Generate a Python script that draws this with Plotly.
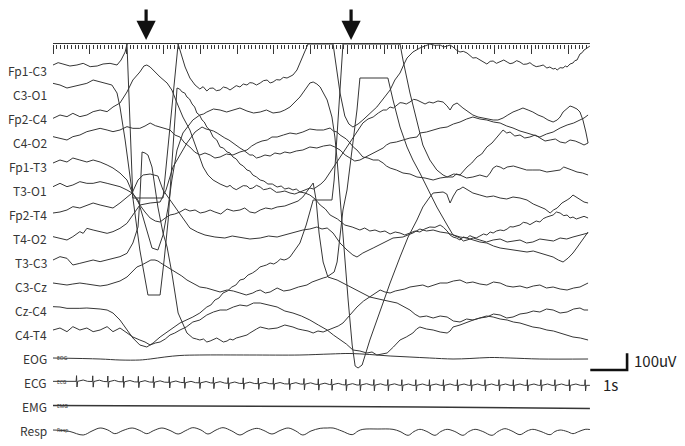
import plotly.graph_objects as go

# EEG montage page: 12 EEG derivations + EOG / ECG / EMG / Resp
# each trace: (time s, amplitude uV)
CHANNELS = ['Fp1-C3', 'C3-O1', 'Fp2-C4', 'C4-O2', 'Fp1-T3', 'T3-O1',
            'Fp2-T4', 'T4-O2', 'T3-C3', 'C3-Cz', 'Cz-C4', 'C4-T4',
            'EOG', 'ECG', 'EMG', 'Resp']
PAGE_S = 14.59
ARROWS_S = [2.53, 8.10]

FP1_C3 = [(0, 30), (0.14, 44), (0.27, 36), (0.46, 24), (0.65, 30), (0.82, 40), (1.01, 20), (1.20, 24), (1.36, 36),
          (1.55, 40), (1.74, 30), (1.85, 60), (1.96, 108), (2.01, 156), (2.17, -768), (2.58, -768), (2.99, -768),
          (3.40, 156), (3.59, 18), (3.72, -48), (3.86, -90), (3.99, -114), (4.08, -100), (4.18, -126),
          (4.26, -110), (4.35, -108), (4.44, -124), (4.54, -120), (4.63, -102), (4.73, -108), (4.81, -120),
          (4.89, -108), (4.98, -94), (5.08, -102), (5.17, -84), (5.27, -90), (5.35, -76), (5.43, -78), (5.53, -90),
          (5.63, -78), (5.72, -64), (5.82, -60), (5.90, -78), (5.98, -72), (6.07, -58), (6.17, -60), (6.26, -44),
          (6.36, -48), (6.52, -30), (6.63, 0), (6.71, 42), (6.85, 120), (6.93, 156), (7.61, 156), (7.72, -12),
          (7.80, -138), (7.93, -276), (8.04, -324), (8.15, -342), (8.29, -324), (8.42, -300), (8.61, -258),
          (8.80, -222), (8.97, -174), (9.16, -120), (9.29, -60), (9.43, -18), (9.54, 36), (9.62, 72), (9.78, 108),
          (9.97, 132), (10.24, 156), (10.38, 148), (10.52, 150), (10.62, 138), (10.71, 144), (10.79, 150),
          (10.87, 138), (10.96, 120), (11.06, 108), (11.15, 112), (11.25, 102), (11.33, 88), (11.41, 72),
          (11.50, 74), (11.60, 60), (11.70, 50), (11.79, 36), (11.88, 52), (11.96, 54), (12.05, 40), (12.15, 48),
          (12.25, 60), (12.34, 48), (12.42, 38), (12.50, 42), (12.60, 56), (12.69, 48), (12.78, 34), (12.88, 36),
          (12.96, 44), (13.04, 30), (13.13, 20), (13.23, 24), (13.32, 30), (13.42, 12), (13.50, 18), (13.59, 6),
          (13.65, 10), (13.70, 0), (13.78, 14), (13.86, 12), (13.92, 24), (13.97, 18), (14.05, 36), (14.13, 42),
          (14.18, 56), (14.24, 60), (14.32, 96), (14.38, 104), (14.43, 120), (14.49, 128), (14.54, 138),
          (14.59, 144)]

C3_O1 = [(0, 64), (0.19, 54), (0.38, 36), (0.54, 44), (0.73, 54), (0.92, 64), (1.09, 84), (1.28, 74), (1.47, 64),
         (1.60, 54), (1.74, 6), (1.82, -78), (1.96, -276), (2.09, -486), (2.23, -696), (2.36, -936), (2.58, -1206),
         (2.91, -1206), (3.02, -996), (3.13, -756), (3.21, -486), (3.29, -216), (3.37, 36), (3.44, 30), (3.51, 12),
         (3.58, 6), (3.64, -18), (3.71, -30), (3.78, -60), (3.85, -78), (3.91, -114), (3.98, -126), (4.05, -156),
         (4.11, -168), (4.18, -198), (4.26, -216), (4.35, -258), (4.45, -276), (4.54, -318), (4.63, -324),
         (4.73, -348), (4.81, -354), (4.89, -378), (4.98, -390), (5.08, -420), (5.17, -432), (5.27, -456),
         (5.35, -462), (5.43, -486), (5.53, -498), (5.63, -516), (5.73, -522), (5.84, -540), (5.96, -540),
         (6.09, -558), (6.20, -552), (6.30, -570), (6.41, -564), (6.52, -576), (6.61, -570), (6.71, -588),
         (6.85, -594), (6.98, -606), (7.12, -630), (7.26, -666), (7.40, -690), (7.53, -726), (7.73, -750),
         (7.93, -786), (8.13, -798), (8.34, -816), (8.47, -804), (8.61, -822), (8.75, -816), (8.89, -828),
         (9.02, -822), (9.16, -840), (9.30, -828), (9.43, -834), (9.56, -846), (9.70, -834), (9.84, -822),
         (9.97, -828), (10.10, -810), (10.24, -798), (10.38, -800), (10.52, -786), (10.61, -800), (10.71, -822),
         (10.79, -846), (10.87, -858), (10.96, -864), (11.06, -876), (11.15, -858), (11.25, -864), (11.33, -850),
         (11.41, -858), (11.50, -864), (11.60, -852), (11.70, -840), (11.79, -846), (11.88, -828), (11.96, -834),
         (12.05, -822), (12.15, -816), (12.25, -820), (12.34, -810), (12.42, -796), (12.50, -798), (12.60, -792),
         (12.69, -786), (12.78, -770), (12.88, -774), (12.96, -784), (13.04, -774), (13.13, -762), (13.23, -768),
         (13.32, -748), (13.42, -738), (13.50, -732), (13.59, -726), (13.68, -708), (13.78, -714), (13.88, -730),
         (13.97, -726), (14.05, -744), (14.13, -738), (14.22, -750), (14.32, -744), (14.43, -734), (14.54, -744)]

FP2_C4 = [(0, -2), (0.19, 18), (0.38, 8), (0.54, 28), (0.73, 8), (0.92, 18), (1.09, 38), (1.28, 48), (1.47, 38),
          (1.63, 66), (1.82, 90), (2.01, 156), (2.17, 228), (2.36, 276), (2.47, 312), (2.55, 318), (2.64, 306),
          (2.72, 288), (2.91, 246), (3.10, 210), (3.23, 168), (3.37, 90), (3.53, 6), (3.72, -72), (3.91, -192),
          (4.08, -294), (4.21, -342), (4.35, -372), (4.54, -396), (4.63, -406), (4.73, -414), (4.81, -404),
          (4.89, -420), (4.98, -430), (5.08, -420), (5.17, -406), (5.27, -408), (5.35, -424), (5.43, -420),
          (5.53, -404), (5.63, -414), (5.72, -430), (5.82, -426), (5.90, -420), (5.98, -432), (6.07, -446),
          (6.17, -444), (6.30, -438), (6.44, -450), (6.57, -456), (6.71, -444), (6.85, -430), (6.98, -420),
          (7.08, -426), (7.17, -414), (7.28, -396), (7.39, -372), (7.66, -282), (7.93, -192), (8.21, -102),
          (8.42, -30), (8.56, -6), (8.70, 6), (8.84, 30), (8.97, 48), (9.06, 48), (9.16, 66), (9.25, 60), (9.35, 78),
          (9.43, 92), (9.51, 90), (9.60, 84), (9.70, 96), (9.80, 112), (9.89, 108), (10.00, 96), (10.11, 84),
          (10.22, 96), (10.33, 90), (10.46, 102), (10.60, 96), (10.71, 72), (10.79, 48), (10.87, 78), (10.98, 90),
          (11.14, 60), (11.28, 36), (11.41, 18), (11.55, 6), (11.68, 0), (11.82, -6), (11.96, -12), (12.09, -12),
          (12.23, 0), (12.36, 18), (12.50, 36), (12.64, 48), (12.77, 60), (12.91, 48), (13.04, 36), (13.18, 18),
          (13.32, 6), (13.45, -12), (13.59, -24), (13.70, -12), (13.78, 6), (13.86, 36), (13.97, 60), (14.05, 72),
          (14.13, 66), (14.24, 54), (14.32, 36), (14.40, -12), (14.48, -84), (14.54, -150)]

C4_O2 = [(0, 32), (0.19, 22), (0.38, 12), (0.54, 32), (0.73, 42), (0.92, 62), (1.09, 72), (1.28, 82), (1.47, 72),
         (1.63, 62), (1.82, 72), (2.01, 92), (2.17, 82), (2.36, 82), (2.50, 96), (2.64, 114), (2.78, 98), (2.91, 90),
         (3.05, 84), (3.18, 72), (3.31, 42), (3.45, 30), (3.58, -6), (3.72, -30), (3.85, -60), (3.99, -78),
         (4.13, -66), (4.27, -78), (4.40, -96), (4.54, -90), (4.71, -72), (4.89, -78), (5.08, -60), (5.27, -48),
         (5.40, -24), (5.54, -6), (5.68, 6), (5.82, 12), (5.95, 30), (6.09, 30), (6.26, 42), (6.44, 54), (6.61, 48),
         (6.79, 60), (6.98, 78), (7.17, 72), (7.35, 72), (7.53, 84), (7.62, 66), (7.72, 60), (7.80, 42), (7.88, 30),
         (7.97, 18), (8.07, -6), (8.16, -30), (8.26, -48), (8.34, -66), (8.42, -90), (8.56, -96), (8.70, -108),
         (8.84, -108), (8.97, -126), (9.06, -144), (9.16, -156), (9.33, -168), (9.51, -186), (9.70, -192),
         (9.89, -210), (10.11, -216), (10.33, -228), (10.52, -216), (10.71, -210), (10.89, -192), (11.06, -198),
         (11.24, -216), (11.41, -210), (11.60, -198), (11.79, -210), (11.88, -186), (11.96, -156), (12.05, -144),
         (12.15, -150), (12.25, -162), (12.34, -150), (12.51, -144), (12.69, -156), (12.87, -168), (13.04, -168),
         (13.23, -168), (13.42, -180), (13.60, -174), (13.78, -168), (13.88, -150), (13.97, -156), (14.10, -168),
         (14.24, -180), (14.39, -186), (14.54, -198)]

FP1_T3 = [(0, 18), (0.19, 36), (0.38, 24), (0.54, 48), (0.73, 36), (0.92, 24), (1.09, 36), (1.28, 24), (1.47, 6),
          (1.63, -12), (1.82, -42), (2.01, -84), (2.15, -156), (2.36, -234), (2.50, -276), (2.64, -312),
          (2.78, -330), (2.91, -336), (3.05, -312), (3.18, -294), (3.31, -288), (3.45, -276), (3.59, -258),
          (3.72, -270), (3.86, -264), (4.00, -282), (4.13, -276), (4.27, -264), (4.40, -276), (4.56, -288),
          (4.73, -258), (4.90, -270), (5.08, -264), (5.21, -252), (5.35, -276), (5.49, -282), (5.63, -264),
          (5.78, -252), (5.94, -258), (6.09, -246), (6.30, -240), (6.52, -222), (6.66, -210), (6.79, -186),
          (6.98, -126), (7.07, -102), (7.15, -204), (7.23, -402), (7.34, -576), (7.47, -666), (7.72, -684),
          (7.99, -714), (8.26, -744), (8.61, -786), (8.97, -804), (9.35, -822), (9.70, -864), (9.84, -890),
          (9.97, -906), (10.15, -900), (10.33, -912), (10.52, -900), (10.71, -906), (10.88, -930), (11.06, -936),
          (11.24, -918), (11.41, -924), (11.60, -912), (11.79, -906), (11.97, -888), (12.15, -894), (12.33, -912),
          (12.50, -906), (12.69, -888), (12.88, -882), (13.05, -870), (13.23, -876), (13.41, -858), (13.59, -864),
          (13.78, -882), (13.97, -876), (14.15, -858), (14.32, -852), (14.43, -864), (14.54, -864)]

T3_O1 = [(0, 20), (0.19, 40), (0.38, 20), (0.54, 30), (0.73, 50), (0.92, 40), (1.09, 40), (1.28, 50), (1.47, 40),
         (1.63, 30), (1.82, 20), (2.01, 0), (2.15, -18), (2.31, 60), (2.45, 90), (2.64, 96), (2.85, 84), (2.99, 0),
         (3.18, -60), (3.45, -150), (3.72, -228), (3.92, -252), (4.13, -270), (4.40, -282), (4.67, -288),
         (4.87, -276), (5.08, -282), (5.35, -294), (5.63, -288), (5.86, -276), (6.09, -282), (6.30, -270),
         (6.52, -258), (6.66, -246), (6.79, -240), (6.98, -234), (7.17, -222), (7.31, -234), (7.45, -228),
         (7.61, -258), (7.80, -318), (7.99, -360), (8.15, -390), (8.26, -402), (8.42, -378), (8.70, -348),
         (8.97, -318), (9.24, -288), (9.51, -282), (9.78, -258), (9.97, -234), (10.15, -246), (10.33, -240),
         (10.52, -252), (10.71, -258), (10.88, -270), (11.06, -282), (11.24, -288), (11.41, -300), (11.60, -312),
         (11.79, -318), (11.97, -336), (12.15, -348), (12.33, -354), (12.50, -360), (12.69, -366), (12.88, -372),
         (13.05, -366), (13.23, -378), (13.41, -390), (13.59, -402), (13.73, -420), (13.86, -432), (14.00, -408),
         (14.13, -378), (14.23, -348), (14.32, -318), (14.43, -288), (14.54, -252)]

FP2_T4 = [(0, 6), (0.19, 12), (0.38, 24), (0.54, 44), (0.73, 36), (0.92, 54), (1.09, 66), (1.28, 54), (1.47, 44),
          (1.63, 36), (1.82, 66), (2.01, 102), (2.15, 126), (2.31, 84), (2.50, -66), (2.69, -204), (2.85, -216),
          (2.99, -126), (3.13, 42), (3.23, 204), (3.37, 384), (3.53, 486), (3.80, 564), (3.90, 582), (3.99, 594),
          (4.09, 600), (4.18, 612), (4.36, 630), (4.54, 624), (4.72, 612), (4.89, 624), (5.08, 636), (5.27, 618),
          (5.45, 606), (5.63, 612), (5.80, 624), (5.98, 606), (6.17, 612), (6.30, 624), (6.44, 642), (6.71, 702),
          (6.85, 744), (6.98, 786), (7.07, 792), (7.17, 780), (7.26, 762), (7.45, 684), (7.58, 582), (7.66, 462),
          (7.72, 324), (7.80, 84), (7.91, -216), (8.02, -516), (8.13, -786), (8.21, -912), (8.29, -924),
          (8.40, -906), (8.61, -756), (8.89, -576), (9.16, -414), (9.43, -258), (9.65, -138), (9.89, -36),
          (10.05, 42), (10.24, 102), (10.33, 126), (10.60, 132), (10.70, 120), (10.79, 66), (10.88, 108),
          (10.98, 144), (11.06, 150), (11.14, 162), (11.27, 144), (11.41, 126), (11.60, 114), (11.79, 102),
          (11.97, 108), (12.15, 96), (12.33, 90), (12.50, 102), (12.69, 96), (12.88, 84), (13.05, 60), (13.23, 42),
          (13.37, 30), (13.51, 6), (13.60, 24), (13.70, 36), (13.83, 66), (13.97, 84), (14.05, 96), (14.13, 114),
          (14.22, 102), (14.32, 84), (14.43, 72), (14.54, 66)]

T4_O2 = [(0, 8), (0.19, -2), (0.38, -12), (0.54, 8), (0.73, 38), (0.82, 28), (0.92, 58), (1.09, 48), (1.28, 38),
         (1.47, 28), (1.63, 38), (1.82, 58), (2.01, 88), (2.17, 138), (2.36, 198), (2.64, 210), (2.91, 216),
         (3.07, 288), (3.26, 426), (3.64, 570), (3.86, 636), (4.05, 666), (4.16, 654), (4.27, 648), (4.36, 642),
         (4.46, 630), (4.57, 612), (4.67, 600), (4.78, 588), (4.89, 570), (4.98, 552), (5.08, 540), (5.17, 528),
         (5.27, 510), (5.35, 498), (5.43, 498), (5.53, 480), (5.63, 486), (5.76, 498), (5.90, 492), (6.03, 510),
         (6.17, 504), (6.30, 516), (6.44, 510), (6.61, 522), (6.79, 528), (6.98, 546), (7.17, 540), (7.35, 552),
         (7.53, 558), (7.66, 546), (7.80, 528), (7.94, 498), (8.07, 480), (8.20, 462), (8.34, 468), (8.44, 480),
         (8.53, 486), (8.62, 498), (8.70, 510), (8.84, 528), (8.97, 540), (9.06, 558), (9.16, 570), (9.33, 576),
         (9.51, 588), (9.70, 600), (9.89, 606), (9.97, 630), (10.15, 636), (10.33, 648), (10.52, 660), (10.71, 666),
         (10.88, 684), (11.06, 696), (11.24, 714), (11.41, 726), (11.60, 714), (11.79, 708), (11.97, 696),
         (12.15, 690), (12.33, 672), (12.50, 660), (12.69, 642), (12.88, 630), (13.05, 618), (13.23, 606),
         (13.41, 624), (13.59, 636), (13.78, 660), (13.97, 678), (14.15, 690), (14.32, 708), (14.43, 720),
         (14.54, 738)]

T3_C3 = [(0, 12), (0.19, 32), (0.38, 22), (0.54, -18), (0.73, -8), (0.92, 2), (1.09, 12), (1.28, 2), (1.47, 12),
         (1.63, 22), (1.82, 32), (2.01, 52), (2.17, 114), (2.31, 210), (2.36, 372), (2.42, 660), (2.50, 654),
         (2.58, 642), (2.69, 570), (2.77, 450), (2.85, 330), (2.99, 174), (3.10, 90), (3.23, -66), (3.40, -306),
         (3.64, -426), (3.80, -456), (3.90, -462), (3.99, -468), (4.09, -462), (4.18, -480), (4.27, -474),
         (4.35, -468), (4.45, -456), (4.54, -468), (4.63, -480), (4.73, -474), (4.81, -462), (4.89, -468),
         (4.98, -456), (5.08, -450), (5.17, -444), (5.27, -438), (5.35, -426), (5.43, -414), (5.53, -402),
         (5.63, -390), (5.86, -402), (6.09, -396), (6.30, -378), (6.52, -390), (6.66, -402), (6.79, -408),
         (6.93, -414), (7.07, -426), (7.20, -414), (7.34, -420), (7.47, -408), (7.61, -396), (7.75, -384),
         (7.88, -366), (8.07, -318), (8.26, -270), (8.44, -234), (8.61, -210), (8.75, -186), (8.89, -168),
         (9.02, -180), (9.16, -186), (9.30, -174), (9.43, -168), (9.56, -162), (9.70, -150), (9.88, -144),
         (10.05, -138), (10.19, -150), (10.33, -138), (10.52, -126), (10.71, -126), (10.88, -114), (11.06, -108),
         (11.24, -126), (11.41, -120), (11.60, -132), (11.79, -138), (11.97, -120), (12.15, -126), (12.33, -144),
         (12.50, -150), (12.69, -144), (12.88, -156), (13.05, -144), (13.23, -138), (13.41, -156), (13.59, -150),
         (13.78, -162), (13.97, -168), (14.15, -156), (14.32, -150), (14.43, -138), (14.54, -126)]

C3_CZ = [(0, 18), (0.19, 12), (0.38, 6), (0.54, 12), (0.73, 18), (0.92, 12), (1.09, 6), (1.28, 0), (1.47, 6),
         (1.63, 18), (1.82, 30), (2.01, 54), (2.15, 84), (2.28, 114), (2.41, 126), (2.55, 144), (2.66, 156),
         (2.77, 156), (2.85, 150), (2.93, 138), (3.02, 126), (3.10, 114), (3.23, 96), (3.37, 78), (3.50, 60),
         (3.64, 36), (3.81, 18), (3.99, -6), (4.17, -12), (4.35, -24), (4.54, -36), (4.73, -24), (4.90, -30),
         (5.08, -42), (5.25, -54), (5.43, -42), (5.53, -30), (5.63, -24), (5.77, -42), (5.90, -36), (6.00, -24),
         (6.09, -12), (6.27, -30), (6.44, -24), (6.67, -6), (6.90, 6), (7.04, 24), (7.17, 36), (7.26, 42),
         (7.34, 48), (7.44, 54), (7.53, 66), (7.64, 84), (7.72, 144), (7.80, 306), (7.88, 456), (7.99, 576),
         (8.07, 726), (8.15, 858), (8.26, 1056), (8.34, 1248), (8.72, 1248), (9.10, 1248), (9.24, 1116),
         (9.43, 954), (9.62, 834), (9.78, 756), (9.97, 678), (10.16, 594), (10.43, 474), (10.71, 366), (10.87, 306),
         (11.06, 288), (11.15, 270), (11.25, 276), (11.42, 288), (11.60, 276), (11.78, 264), (11.96, 276),
         (12.15, 282), (12.34, 264), (12.51, 270), (12.69, 276), (12.87, 258), (13.04, 264), (13.23, 282),
         (13.42, 276), (13.60, 270), (13.78, 288), (13.96, 282), (14.13, 294), (14.33, 306), (14.54, 318)]

CZ_C4 = [(0, 20), (0.19, 18), (0.38, 10), (0.54, 12), (0.73, 10), (0.92, 12), (1.09, 10), (1.28, 6), (1.47, 0),
         (1.63, -18), (1.82, -60), (2.01, -120), (2.17, -168), (2.36, -210), (2.55, -222), (2.72, -198),
         (2.91, -162), (3.18, -120), (3.45, -78), (3.80, -42), (3.99, -18), (4.18, 18), (4.29, 30), (4.40, 60),
         (4.51, 72), (4.62, 102), (4.74, 114), (4.86, 138), (4.97, 150), (5.08, 180), (5.19, 186), (5.30, 210),
         (5.42, 222), (5.54, 240), (5.62, 258), (5.71, 264), (5.80, 270), (5.90, 282), (6.00, 276), (6.09, 288),
         (6.18, 306), (6.28, 300), (6.36, 306), (6.44, 318), (6.71, 402), (6.88, 510), (6.98, 588), (7.07, 660),
         (7.31, 660), (7.58, 660), (7.64, 780), (7.69, 960), (7.74, 1140), (7.80, 1320), (7.85, 1500), (7.88, 1596),
         (9.43, 1596), (9.51, 1500), (9.70, 1302), (9.89, 1128), (10.05, 990), (10.24, 900), (10.43, 840),
         (10.60, 810), (10.71, 798), (10.87, 798), (10.96, 816), (11.06, 810), (11.15, 834), (11.25, 858),
         (11.38, 882), (11.52, 918), (11.65, 936), (11.79, 978), (11.93, 1002), (12.07, 1038), (12.15, 1062),
         (12.23, 1080), (12.33, 1062), (12.42, 1068), (12.55, 1044), (12.69, 1050), (12.82, 1032), (12.96, 1038),
         (13.10, 1050), (13.23, 1032), (13.37, 1014), (13.51, 1020), (13.65, 1026), (13.78, 1008), (13.92, 1002),
         (14.05, 1020), (14.19, 1014), (14.32, 1002), (14.43, 990), (14.54, 1002)]

C4_T4 = [(0, 24), (0.19, 36), (0.38, 14), (0.54, 44), (0.73, 24), (0.92, 36), (1.09, 14), (1.28, 24), (1.47, 44),
         (1.63, 14), (1.82, 36), (2.01, 6), (2.17, -18), (2.36, -36), (2.50, -48), (2.64, -66), (2.78, -54),
         (2.91, -48), (3.05, -30), (3.18, -6), (3.31, 6), (3.45, 24), (3.62, 42), (3.80, 72), (3.99, 84),
         (4.18, 114), (4.36, 132), (4.54, 144), (4.72, 144), (4.90, 162), (5.08, 174), (5.27, 168), (5.45, 186),
         (5.63, 186), (5.86, 174), (6.09, 162), (6.30, 138), (6.52, 126), (6.75, 108), (6.98, 84), (7.21, 54),
         (7.45, 24), (7.62, -6), (7.80, -36), (7.97, -60), (8.15, -96), (8.34, -102), (8.53, -114), (8.67, -108),
         (8.80, -126), (8.94, -120), (9.08, -114), (9.25, -78), (9.43, -36), (9.60, -18), (9.78, 6), (9.88, 30),
         (9.97, 42), (10.15, 30), (10.33, 24), (10.52, 12), (10.71, 6), (10.79, 18), (10.87, 42), (11.06, 54),
         (11.25, 72), (11.42, 84), (11.60, 96), (11.78, 108), (11.96, 102), (12.15, 90), (12.34, 84), (12.51, 72),
         (12.69, 66), (12.87, 54), (13.04, 42), (13.23, 36), (13.42, 24), (13.60, 18), (13.78, 6), (13.96, -6),
         (14.13, -18), (14.33, -24), (14.54, -36)]

EOG = [(0, 0), (1.28, -6), (1.82, -12), (2.36, -12), (2.64, -6), (3.04, 6), (3.45, 15), (3.99, 18), (5.35, 18),
       (6.71, 18), (7.53, 24), (8.07, 27), (8.61, 21), (9.16, 12), (9.70, 6), (10.24, 0), (10.87, -6), (11.33, -3),
       (11.87, 3), (12.42, 0), (13.23, -6), (14.54, -6)]

ECG_BEATS_S = [0.64, 1.08, 1.49, 1.91, 2.32, 2.73, 3.16, 3.57, 3.98, 4.36, 4.76, 5.17, 5.58, 5.99, 6.42, 6.82,
               7.21, 7.57, 7.96, 8.34, 8.72, 9.10, 9.48, 9.86, 10.23, 10.61, 10.99, 11.36, 11.74, 12.12, 12.51,
               12.89, 13.26, 13.64, 14.03, 14.46]
ECG_LEVEL_UV = [4, 3, 2, 1, 0, -1, -2, -4, -5, -6, -8, -9, -10, -11, -12, -13, -15, -16,
                -18, -18, -19, -19, -20, -20, -20, -20, -20, -20, -20, -20, -20, -20, -20, -20, -20, -20]
ECG_BEAT_DT = [-0.012, 0.0, 0.012, 0.03, 0.18, 0.3]
ECG_BEAT_UV = [0, 34, -34, 0, 8, 0]

EMG = [(0, 3), (2.64, 2), (5.35, -2), (7.53, -3), (9.97, -6), (12.15, -11), (14.59, -15)]

RESP = [(0, 0), (0.27, -3), (0.46, -9), (0.82, -30), (1.06, -6), (1.28, 12), (1.49, 0), (1.68, -22), (1.90, -3),
        (2.15, 12), (2.36, -3), (2.55, -22), (2.74, -3), (2.96, 12), (3.18, -3), (3.40, -24), (3.61, -3), (3.80, 14),
        (4.02, 0), (4.21, -24), (4.43, 0), (4.62, 14), (4.86, -6), (5.08, -30), (5.30, -6), (5.54, 10), (5.73, -3),
        (5.95, -24), (6.17, -3), (6.39, 12), (6.60, -6), (6.79, -30), (7.01, -6), (7.26, 10), (7.45, 12),
        (7.61, 12), (7.85, -6), (8.13, -28), (8.29, -6), (8.42, 4), (8.83, 6), (9.24, 4), (9.43, -9), (9.65, -32),
        (9.81, -9), (9.97, 4), (10.16, -9), (10.38, -32), (10.54, -9), (10.71, 4), (10.92, -9), (11.14, -32),
        (11.30, -9), (11.47, 4), (11.68, -9), (11.93, -32), (12.09, -9), (12.28, 8), (12.47, -6), (12.69, -28),
        (12.88, -6), (13.04, 4), (13.26, -9), (13.51, -28), (13.64, -9), (13.78, 0), (13.97, -9), (14.13, -22),
        (14.29, -9), (14.46, 4), (14.59, 3)]

EEG_DATA = [FP1_C3, C3_O1, FP2_C4, C4_O2, FP1_T3, T3_O1, FP2_T4, T4_O2, T3_C3, C3_CZ, CZ_C4, C4_T4]

# page geometry (display units: uV stacked downward, 1 px ~ 6 uV, 1 s ~ 36.8 px)
# the page body keeps an 8 px margin, so the figure covers page pixels 8..685 x 8..446
SPACING = 144
FIRST = -420
PAD = 8
W, H = 685 - PAD, 446 - PAD
PX_PER_S = 36.8
X0_PX = 53
X_RANGE = [(PAD - X0_PX) / PX_PER_S, (685 - X0_PX) / PX_PER_S]
Y_RANGE = [-446 * 6, -PAD * 6]
RULER_PX = 43.5
INK = '#363636'


def offset(i):
    return FIRST - SPACING * i


def add_line(pairs, row, width=1.0, shape='linear'):
    fig.add_trace(go.Scatter(x=[p[0] for p in pairs], y=[offset(row) + p[1] for p in pairs],
                             mode='lines', line=dict(color=INK, width=width, shape=shape),
                             hoverinfo='skip', showlegend=False))


fig = go.Figure()

for i, pairs in enumerate(EEG_DATA):
    add_line(pairs, i)

add_line(EOG, 12, shape='spline')

# ECG: beat times + beat shape
ecg = [(0, ECG_LEVEL_UV[0])]
for tb, lvl in zip(ECG_BEATS_S, ECG_LEVEL_UV):
    for dt, dv in zip(ECG_BEAT_DT, ECG_BEAT_UV):
        if tb + dt <= PAGE_S:
            ecg.append((tb + dt, lvl + dv))
ecg.append((PAGE_S, ECG_LEVEL_UV[-1]))
add_line(ecg, 13)

add_line(EMG, 14, width=1.6)
add_line(RESP, 15, shape='spline')

# time ruler on its own axis (0.1 s minor ticks, 1 s major ticks)
fig.add_trace(go.Scatter(x=[0, PAGE_S], y=[-RULER_PX * 6, -RULER_PX * 6], xaxis='x2', yaxis='y', mode='lines',
                         line=dict(color=INK, width=1), hoverinfo='skip', showlegend=False))

# calibration bar 1 s x 100 uV
bar_y = -2220
fig.add_trace(go.Scatter(x=[14.60, 15.60, 15.60], y=[bar_y, bar_y, bar_y + 100], mode='lines',
                         line=dict(color='#111111', width=2.6), hoverinfo='skip', showlegend=False))

annotations = []
for i, name in enumerate(CHANNELS):
    annotations.append(dict(x=-0.12, y=offset(i), xref='x', yref='y', text=name, showarrow=False,
                            xanchor='right', yanchor='middle',
                            font=dict(family='Noto Sans CJK JP', size=12, color=INK)))
for i, name in zip(range(12, 16), CHANNELS[12:]):
    annotations.append(dict(x=0.05, y=offset(i), xref='x', yref='y', text=name, showarrow=False,
                            xanchor='left', yanchor='middle',
                            font=dict(family='Noto Sans', size=5, color=INK)))
for xa in ARROWS_S:
    annotations.append(dict(x=xa, y=-240, xref='x', yref='y', text='', showarrow=True,
                            ax=0, ay=-40, arrowhead=2, arrowsize=1.2, arrowwidth=3.2,
                            arrowcolor='#111111'))
annotations.append(dict(x=15.74, y=-2160, xref='x', yref='y', text='100uV', showarrow=False,
                        xanchor='left', yanchor='middle',
                        font=dict(family='Noto Sans CJK JP', size=15, color='#222222')))
annotations.append(dict(x=15.16, y=-2304, xref='x', yref='y', text='1s', showarrow=False,
                        xanchor='center', yanchor='middle',
                        font=dict(family='Noto Sans CJK JP', size=15, color='#222222')))

fig.update_layout(
    width=W, height=H,
    margin=dict(l=0, r=0, t=0, b=0),
    paper_bgcolor='white', plot_bgcolor='rgba(0,0,0,0)',
    showlegend=False,
    xaxis=dict(range=X_RANGE, visible=False, fixedrange=True),
    yaxis=dict(range=Y_RANGE, visible=False, fixedrange=True),
    xaxis2=dict(range=[0, PAGE_S],
                domain=[(X0_PX - PAD) / W, (X0_PX - PAD + PAGE_S * PX_PER_S) / W],
                anchor='free', position=1 - (RULER_PX - PAD) / H, side='bottom',
                showline=False, showgrid=False, zeroline=False, showticklabels=False,
                ticks='outside', tick0=0, dtick=1, ticklen=9, tickwidth=1, tickcolor=INK,
                minor=dict(tick0=0, dtick=0.1, ticks='outside', ticklen=4, tickwidth=1,
                           tickcolor=INK, showgrid=False),
                fixedrange=True),
    annotations=annotations,
)

fig.write_html('out.html')
